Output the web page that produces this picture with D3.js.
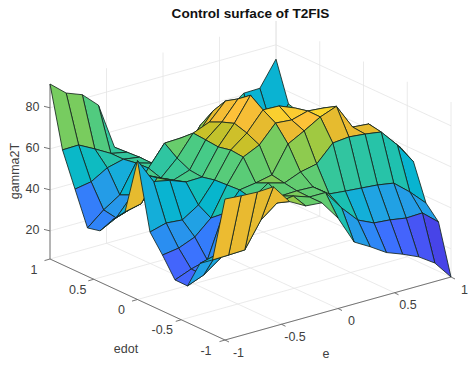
<!DOCTYPE html>
<html>
<head>
<meta charset="utf-8">
<script src="https://cdn.jsdelivr.net/npm/d3@7"></script>
<style>
  html, body { margin: 0; padding: 0; background: #fff; }
  text { font-family: "Liberation Sans", Arial, sans-serif; fill: #404040; }
</style>
</head>
<body>
<svg id="chart" width="474" height="367"></svg>
<script>
const eTicks = [-1, -0.5, 0, 0.5, 1];
const edotTicks = [-1, -0.5, 0, 0.5, 1];
const zTicks = [20, 40, 60, 80];
const zLimits = [6.3, 91.6];

// rows run from edot = -1 to edot = 1, columns from e = -1 to e = 1
const gamma2T = [
  [75, 74.4, 74, 74.4, 65, 60.7, 60, 50.4, 36.5, 32, 27, 24, 20.5, 15.3, 6.3],
  [42.5, 42.7, 43, 55.4, 61.5, 62.7, 60, 60, 50.3, 42.2, 38.6, 37.9, 36.6, 36.9, 30.3],
  [38, 40, 45, 50, 58, 59.9, 60.2, 59.9, 54.3, 53.5, 52.8, 52.1, 50.8, 44.3, 36.7],
  [24.2, 27.3, 33, 45, 58, 63.4, 61.2, 64.4, 66.1, 74.1, 74.9, 74.1, 72.9, 64.4, 54],
  [24.3, 27.4, 29.6, 50, 59.4, 60.6, 62.3, 75.2, 79.4, 84, 87, 74.7, 74, 66, 58],
  [33.6, 34.8, 38, 45.1, 59, 70.4, 74.1, 82.6, 81.9, 84.1, 83.4, 72, 68, 62, 58],
  [42, 44.2, 43.5, 48.6, 58.6, 71, 77.1, 86.2, 85.9, 82.7, 72, 70, 66, 60, 58],
  [74, 61.6, 60, 57, 57.2, 69.7, 79, 90.5, 78, 72, 68, 66, 62, 58, 56],
  [46.2, 48, 58.4, 55.1, 57.8, 70.3, 76.8, 85.9, 74, 68, 65, 62, 60, 56, 54],
  [39.5, 42, 57, 53.3, 60.8, 70.8, 74, 82.1, 72, 65, 62, 60, 58, 55, 55],
  [31.3, 35.4, 44.4, 55.3, 65.3, 65.6, 64.8, 74.4, 68, 62, 60, 58, 56, 54, 55],
  [29.9, 36.5, 41.6, 55, 52.7, 56, 54, 64.7, 60, 58, 56, 55, 54, 52, 52],
  [46, 47.4, 52, 54, 52.8, 46, 44, 50, 52, 50, 52, 54, 56, 54, 52],
  [62.3, 62.5, 58.4, 54, 52.4, 44, 40, 42, 44, 46, 50, 52, 44, 44, 54],
  [91.6, 85, 82, 74.7, 52, 44, 38, 36, 40, 42, 50, 55, 60.8, 61, 73]
];

const parula = [
  "rgb(62,38,168)", "rgb(68,51,204)", "rgb(71,67,231)", "rgb(72,79,242)", "rgb(70,97,252)",
  "rgb(58,116,254)", "rgb(46,134,247)", "rgb(37,155,232)", "rgb(28,170,223)", "rgb(6,181,207)",
  "rgb(18,190,185)", "rgb(47,197,162)", "rgb(72,203,134)", "rgb(113,205,100)", "rgb(159,201,66)",
  "rgb(200,193,41)", "rgb(234,186,48)", "rgb(254,192,58)", "rgb(250,209,46)", "rgb(245,232,36)",
  "rgb(249,251,21)"
];

const originX = 225, originY = 340;
const eX = d3.scaleLinear([-1, 1], [0, 226]);
const eY = d3.scaleLinear([-1, 1], [0, -63]);
const edotX = d3.scaleLinear([-1, 1], [0, -175]);
const edotY = d3.scaleLinear([-1, 1], [0, -81]);
const zY = d3.scaleLinear(zLimits, [0, -175]);
const colIndex = d3.scaleLinear([0, 14], [-1, 1]);
const color = d3.scaleLinear()
    .domain(parula.map((c, k) => zLimits[0] + (zLimits[1] - zLimits[0]) * k / (parula.length - 1)))
    .range(parula);

function project(e, edot, z) {
    return [originX + eX(e) + edotX(edot), originY + eY(e) + edotY(edot) + zY(z)];
}

const svg = d3.select("#chart");
const line = d3.line();
const [zMin, zMax] = zLimits;

// back walls and floor grid
let gridLines = [];
for (const t of eTicks) {
    gridLines.push([project(t, -1, zMin), project(t, 1, zMin), project(t, 1, zMax)]);
}
for (const t of edotTicks) {
    gridLines.push([project(-1, t, zMin), project(1, t, zMin), project(1, t, zMax)]);
}
for (const t of zTicks) {
    gridLines.push([project(-1, 1, t), project(1, 1, t), project(1, -1, t)]);
}
svg.append("g").selectAll("path")
    .data(gridLines)
    .join("path")
    .attr("d", line)
    .attr("fill", "none")
    .attr("stroke", "#e4e4e4")
    .attr("stroke-width", 0.8);

// axis lines
let axisLines = [
    [project(-1, 1, zMin), project(-1, 1, zMax)],
    [project(-1, 1, zMin), project(-1, -1, zMin)],
    [project(-1, -1, zMin), project(1, -1, zMin)]
];
for (const t of zTicks) {
    let p = project(-1, 1, t);
    axisLines.push([p, [p[0] - 6, p[1] - 1.5]]);
}
for (const t of edotTicks) {
    let p = project(-1, t, zMin);
    axisLines.push([p, [p[0] - 5.5, p[1] + 1.6]]);
}
for (const t of eTicks) {
    let p = project(t, -1, zMin);
    axisLines.push([p, [p[0] + 4, p[1] + 2]]);
}
svg.append("g").selectAll("path")
    .data(axisLines)
    .join("path")
    .attr("d", line)
    .attr("fill", "none")
    .attr("stroke", "#666")
    .attr("stroke-width", 0.9);

// surface, painted from the back corner forward
let cells = [];
for (let i = 13; i >= 0; i--) {
    for (let j = 13; j >= 0; j--) {
        const corner = (a, b) => project(colIndex(b), colIndex(a), gamma2T[a][b]);
        cells.push({
            z: gamma2T[i][j],
            points: [corner(i, j), corner(i + 1, j), corner(i + 1, j + 1), corner(i, j + 1), corner(i, j)]
        });
    }
}
svg.append("g").selectAll("path")
    .data(cells)
    .join("path")
    .attr("d", d => line(d.points))
    .attr("fill", d => color(d.z))
    .attr("stroke", "#15261f")
    .attr("stroke-width", 0.85)
    .attr("stroke-linejoin", "round");

// tick labels
function addLabel(x, y, txt, size = 12.5, anchor = "middle") {
    return svg.append("text")
        .attr("x", x)
        .attr("y", y)
        .attr("text-anchor", anchor)
        .attr("dominant-baseline", "central")
        .attr("font-size", size)
        .text(txt);
}
const tickText = t => String(t);
for (const t of zTicks) {
    addLabel(39.5, project(-1, 1, t)[1] - 1, tickText(t), 12.5, "end");
}
for (const t of edotTicks) {
    let p = project(-1, t, zMin);
    addLabel(p[0] - 16 - (t < 0 ? 3 : 0), p[1] + 10.5, tickText(t));
}
for (const t of eTicks) {
    let p = project(t, -1, zMin);
    addLabel(p[0] + 13.5, p[1] + 12.5, tickText(t));
}

addLabel(126, 349, "edot");
addLabel(326, 354, "e");
svg.append("text")
    .attr("transform", "translate(15,171) rotate(-90)")
    .attr("text-anchor", "middle")
    .attr("dominant-baseline", "central")
    .attr("font-size", 12.5)
    .text("gamma2T");

svg.append("text")
    .attr("x", 250.5)
    .attr("y", 13)
    .attr("text-anchor", "middle")
    .attr("dominant-baseline", "central")
    .attr("font-size", 13.6)
    .attr("font-weight", "bold")
    .style("fill", "#111")
    .text("Control surface of T2FIS");
</script>
</body>
</html>
